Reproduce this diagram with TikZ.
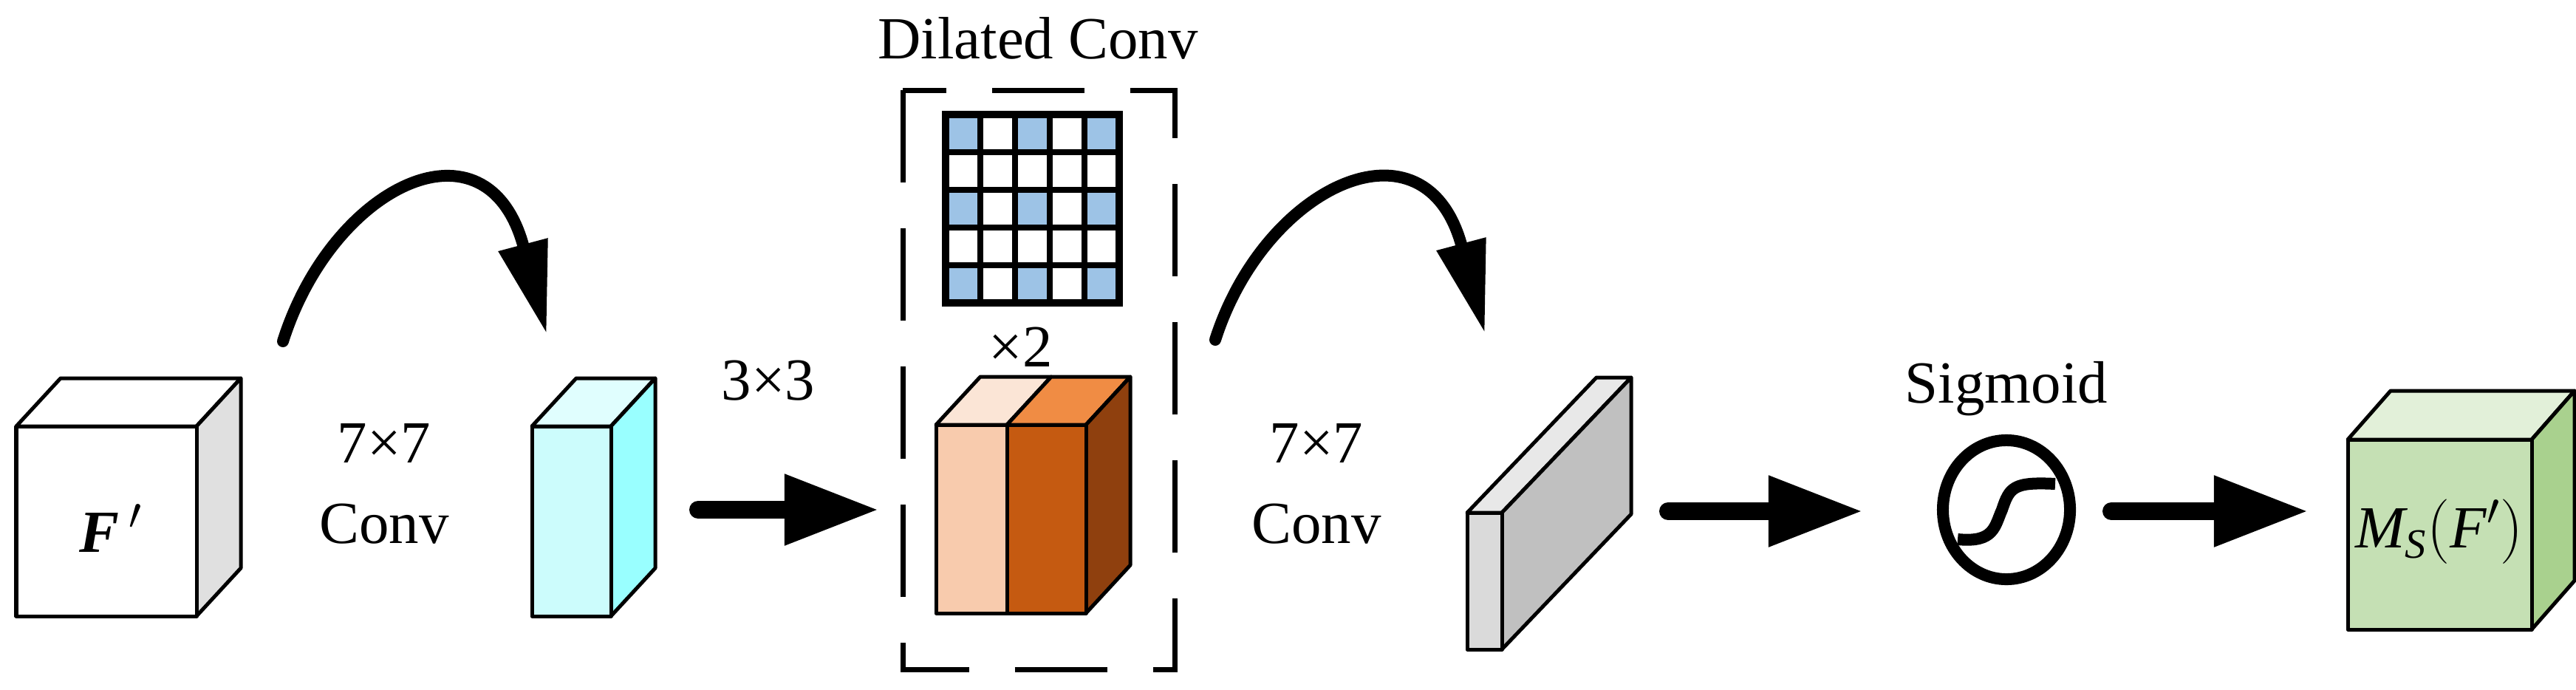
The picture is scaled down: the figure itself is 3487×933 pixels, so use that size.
\documentclass[tikz,border=0pt]{standalone}
\usepackage{fontspec}
\setmainfont{Liberation Serif}
\usetikzlibrary{arrows.meta,shapes.geometric}
\definecolor{cyF}{HTML}{CCFCFC}\definecolor{cyS}{HTML}{99FFFF}\definecolor{cyT}{HTML}{E0FEFE}
\definecolor{orL}{HTML}{F8CBAD}\definecolor{orLT}{HTML}{FBE5D6}\definecolor{orD}{HTML}{C55A11}\definecolor{orDT}{HTML}{F08C44}\definecolor{orS}{HTML}{8F400E}
\definecolor{grF}{HTML}{DADADA}\definecolor{grS}{HTML}{C0C0C0}\definecolor{grT}{HTML}{E8E8E8}
\definecolor{gnF}{HTML}{C5E0B4}\definecolor{gnS}{HTML}{A9D18E}\definecolor{gnT}{HTML}{E2F0D9}
\definecolor{blc}{HTML}{9DC3E6}
% #1 x1 #2 y1 #3 x2 #4 y2 #5 dx #6 dy #7 front #8 top #9 side
\newcommand\cuboid[9]{%
  \filldraw[fill=#8,edge] (#1,#2)--(#1+#5,#2+#6)--(#3+#5,#2+#6)--(#3,#2)--cycle;
  \filldraw[fill=#9,edge] (#3,#2)--(#3+#5,#2+#6)--(#3+#5,#4+#6)--(#3,#4)--cycle;
  \filldraw[fill=#7,edge] (#1,#2) rectangle (#3,#4);}
\begin{document}
\begin{tikzpicture}[x=0.01cm,y=-0.01cm,
  edge/.style={draw=black,line width=0.5mm,line join=round},
  lbl/.style={font=\fontsize{23}{27}\selectfont,align=center,inner sep=0},
  bigarrow/.style={line width=0.24cm,line cap=round,-{Triangle[length=1.28cm,width=0.9cm]}},
  curvarrow/.style={line width=0.16cm,line cap=round,-{Triangle[length=1.25cm,width=0.65cm]}}]
\useasboundingbox (0,0) rectangle (3487,933);
% F' cube
\cuboid{22}{577}{266}{834}{60}{-65}{white}{white}{black!12}
\node[lbl] (fp) at (150,715) {\textbf{\textit{F}}\,$'$};
% cyan block
\cuboid{720}{577}{827}{834}{60}{-65}{cyF}{cyT}{cyS}
\node[lbl] (c1) at (520,655) {7×7\\[4pt]Conv};
\coordinate (a1s) at (383,462); \coordinate (a1e) at (740,452);
\draw[curvarrow] (a1s) .. controls (450,250) and (660,150) .. (a1e);
% 3x3 arrow
\node[lbl] (k3) at (1040,515) {3×3};
\coordinate (a2s) at (945,690); \coordinate (a2e) at (1190,690);
\draw[bigarrow] (a2s) -- (a2e);
% dilated conv box
\node[lbl] (dc) at (1405,52) {Dilated Conv};
\draw[line width=0.07cm,dash pattern=on 1.25cm off 0.62cm] (1222,122) rectangle (1590,906);
\foreach \r in {0,2,4}{\foreach \c in {0,2,4}{
  \fill[blc] (1280+\c*47,155+\r*51) rectangle (1327+\c*47,206+\r*51);}}
\foreach \i in {1,...,4}{
  \draw[line width=0.08cm] (1280+\i*47,155) -- (1280+\i*47,410);
  \draw[line width=0.08cm] (1280,155+\i*51) -- (1515,155+\i*51);}
\draw[line width=0.1cm] (1280,155) rectangle (1515,410);
\node[lbl] (x2) at (1382,470) {×2};
% orange block
\filldraw[fill=orLT,edge] (1267,575)--(1327,510)--(1423,510)--(1363,575)--cycle;
\filldraw[fill=orDT,edge] (1363,575)--(1423,510)--(1530,510)--(1470,575)--cycle;
\filldraw[fill=orS,edge] (1470,575)--(1530,510)--(1530,765)--(1470,830)--cycle;
\filldraw[fill=orL,edge] (1267,575) rectangle (1363,830);
\filldraw[fill=orD,edge] (1363,575) rectangle (1470,830);
% second curved arrow
\coordinate (a3s) at (1645,460); \coordinate (a3e) at (2010,451);
\draw[curvarrow] (a3s) .. controls (1712,250) and (1930,150) .. (a3e);
\node[lbl] (c2) at (1782,655) {7×7\\[4pt]Conv};
% gray slab
\cuboid{1986}{694}{2033}{879}{175}{-183}{grF}{grT}{grS}
\coordinate (a4s) at (2258,692); \coordinate (a4e) at (2522,692);
\draw[bigarrow] (a4s) -- (a4e);
% sigmoid
\node[lbl] (sg) at (2716,526) {Sigmoid};
\node[draw,line width=0.16cm,ellipse,minimum width=1.72cm,minimum height=1.88cm,inner sep=0] (sig) at (2716,690) {};
\draw[line width=0.16cm] (2650,730) .. controls (2700,735) and (2700,712) .. (2710,690) .. controls (2720,660) and (2725,652) .. (2782,655);
\coordinate (a5s) at (2858,692); \coordinate (a5e) at (3125,692);
\draw[bigarrow] (a5s) -- (a5e);
% green cube
\cuboid{3178}{595}{3427}{852}{58}{-66}{gnF}{gnT}{gnS}
\node[lbl] (ms) at (3302,720) {$\mathit{M}_{\mathit{S}}\!\left(\mathit{F'}\right)$};
\end{tikzpicture}
\end{document}
